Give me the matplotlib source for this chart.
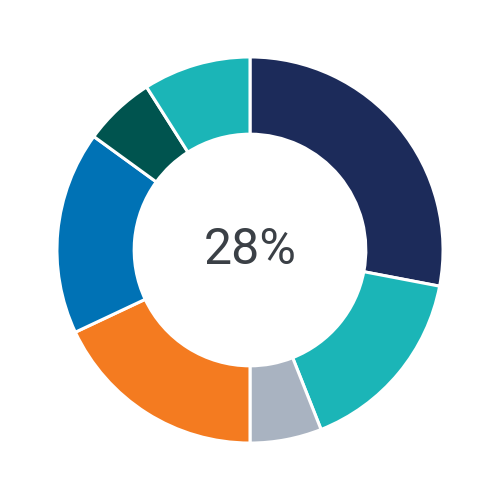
import matplotlib.pyplot as plt

shares = [28, 16, 6, 18, 17, 6, 9]
slice_colors = ['#1c2b5a', '#1bb5b7', '#a9b3c1', '#f47b20', '#0072b5', '#00544f', '#1bb5b7']
center_label = '28%'

fig = plt.figure(figsize=(5, 5), dpi=100)
ax = fig.add_axes([0, 0, 1, 1])
ax.pie(shares, colors=slice_colors, startangle=90, counterclock=False,
       radius=1.0,
       wedgeprops={'width': 0.4, 'linewidth': 2.2, 'edgecolor': 'white'})
ax.text(0, 0, center_label, ha='center', va='center', fontsize=36,
        color='#3b4046', family=['Roboto', 'DejaVu Sans'])
ax.set_xlim(-1.295, 1.295)
ax.set_ylim(-1.295, 1.295)
ax.set_aspect('equal')
ax.axis('off')
fig.savefig('out.png', dpi=100, facecolor='white')
